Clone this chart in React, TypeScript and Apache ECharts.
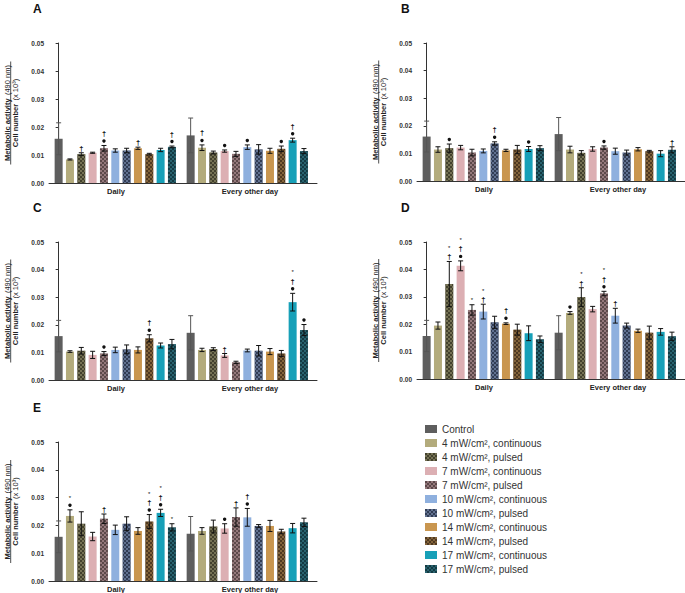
import React, { useEffect, useRef } from 'react';
import * as echarts from 'echarts';

const treatments = [
  'Control',
  '4 mW/cm², continuous',
  '4 mW/cm², pulsed',
  '7 mW/cm², continuous',
  '7 mW/cm², pulsed',
  '10 mW/cm², continuous',
  '10 mW/cm², pulsed',
  '14 mW/cm², continuous',
  '14 mW/cm², pulsed',
  '17 mW/cm², continuous',
  '17 mW/cm², pulsed',
];
const groups = ['Daily', 'Every other day'];
const panelNames = ['A', 'B', 'C', 'D', 'E'];
const yMin = 0;
const yMax = 0.05;
const yStep = 0.01;

// each array: 11 Daily values then 11 Every-other-day values
const meanA = [0.0158, 0.0084, 0.0103, 0.0108, 0.0124, 0.0116, 0.0116, 0.0124, 0.0103, 0.0118, 0.0129,
  0.0170, 0.0126, 0.0109, 0.0114, 0.0104, 0.0128, 0.0120, 0.0115, 0.0122, 0.0153, 0.0114];
const errA = [0.0057, 0.0002, 0.0005, 0.0002, 0.0010, 0.0006, 0.0008, 0.0004, 0.0003, 0.0006, 0.0003,
  0.0062, 0.0010, 0.0005, 0.0004, 0.0009, 0.0008, 0.0017, 0.0009, 0.0010, 0.0007, 0.0009];
const marksA = ['', '', '†', '', '†•', '', '', '†', '', '', '†•',
  '', '†•', '', '•', '', '•', '', '', '•', '†•', ''];

const meanB = [0.0161, 0.0114, 0.0119, 0.0121, 0.0103, 0.0109, 0.0136, 0.0111, 0.0114, 0.0116, 0.0119,
  0.0170, 0.0114, 0.0102, 0.0116, 0.0121, 0.0108, 0.0103, 0.0115, 0.0108, 0.0099, 0.0113];
const errB = [0.0056, 0.0010, 0.0015, 0.0008, 0.0012, 0.0007, 0.0006, 0.0004, 0.0015, 0.0009, 0.0009,
  0.0060, 0.0012, 0.0008, 0.0008, 0.0006, 0.0011, 0.0009, 0.0006, 0.0003, 0.0011, 0.0011];
const marksB = ['', '', '•', '', '', '', '†•', '', '', '•', '',
  '', '', '', '', '•', '', '', '', '', '', '†'];

const meanC = [0.0159, 0.0103, 0.0106, 0.0091, 0.0096, 0.0109, 0.0111, 0.0109, 0.0151, 0.0125, 0.0130,
  0.0171, 0.0109, 0.0112, 0.0089, 0.0064, 0.0107, 0.0106, 0.0103, 0.0096, 0.0282, 0.0181];
const errC = [0.0057, 0.0003, 0.0012, 0.0013, 0.0007, 0.0010, 0.0016, 0.0011, 0.0013, 0.0009, 0.0017,
  0.0062, 0.0006, 0.0005, 0.0007, 0.0004, 0.0005, 0.0019, 0.0011, 0.0011, 0.0032, 0.0020];
const marksC = ['', '', '', '', '•', '', '', '', '†•', '', '',
  '', '', '', '†', '', '', '', '', '', '*†•', '•'];

const meanD = [0.0157, 0.0195, 0.0347, 0.0413, 0.0252, 0.0246, 0.0207, 0.0202, 0.0180, 0.0167, 0.0145,
  0.0169, 0.0241, 0.0299, 0.0255, 0.0312, 0.0231, 0.0195, 0.0176, 0.0169, 0.0172, 0.0156];
const errD = [0.0057, 0.0013, 0.0082, 0.0018, 0.0019, 0.0027, 0.0022, 0.0003, 0.0020, 0.0027, 0.0012,
  0.0062, 0.0005, 0.0034, 0.0010, 0.0008, 0.0027, 0.0009, 0.0006, 0.0024, 0.0012, 0.0015];
const marksD = ['', '', '*†', '*†•', '*', '*†', '', '†•', '', '', '',
  '', '•', '*†', '', '*†•', '†', '', '', '', '', ''];

const meanE = [0.0159, 0.0234, 0.0206, 0.0160, 0.0224, 0.0184, 0.0206, 0.0180, 0.0214, 0.0245, 0.0193,
  0.0170, 0.0180, 0.0196, 0.0189, 0.0230, 0.0229, 0.0198, 0.0198, 0.0178, 0.0190, 0.0211];
const errE = [0.0057, 0.0022, 0.0043, 0.0015, 0.0017, 0.0017, 0.0025, 0.0012, 0.0025, 0.0013, 0.0013,
  0.0062, 0.0012, 0.0023, 0.0017, 0.0033, 0.0032, 0.0005, 0.0020, 0.0008, 0.0017, 0.0015];
const marksE = ['', '*•', '', '', '†', '', '', '', '*†•', '*†•', '*',
  '', '', '', '•', '†', '†•', '', '', '', '', ''];

const panelMeans = [meanA, meanB, meanC, meanD, meanE];
const panelErrs = [errA, errB, errC, errD, errE];
const panelMarks = [marksA, marksB, marksC, marksD, marksE];

const barColors = ['#5e5e5e', '#b3ab7c', '#43412d', '#dcafb3', '#5c494a', '#8fb0de', '#323d54', '#c9964f', '#4f3921', '#17a0b8', '#133a43'];
const decalColors = [null, null, '#9d9771', null, '#c09da0', null, '#879bc1', null, '#ab854f', null, '#388190'];

const FONT = 'Liberation Sans, Arial, sans-serif';

const gridBoxes = [
  { left: 49, top: 43, height: 140 },
  { left: 417, top: 43, height: 138 },
  { left: 49, top: 242, height: 138 },
  { left: 417, top: 242, height: 137 },
  { left: 49, top: 442, height: 139 },
];
const GRID_W = 268;
const GROUP_SHIFT = 11.65;

function pos(g: number, t: number) {
  return g * GROUP_SHIFT + t;
}

function buildOption() {
  const grid: any[] = [];
  const xAxis: any[] = [];
  const yAxis: any[] = [];
  const series: any[] = [];
  const graphic: any[] = [];

  gridBoxes.forEach((b, p) => {
    grid.push({ left: b.left, top: b.top, width: GRID_W, height: b.height, containLabel: false });
    xAxis.push({ type: 'value', gridIndex: p, min: -0.85, max: 22.8, show: false });
    xAxis.push({
      type: 'category', gridIndex: p, data: groups, position: 'bottom',
      axisLine: { show: true, lineStyle: { color: '#333', width: 1 } },
      axisTick: { show: false },
      axisLabel: { fontSize: 7.5, fontWeight: 'bold', color: '#222', margin: 4, fontFamily: FONT },
    });
    yAxis.push({
      type: 'value', gridIndex: p, min: yMin, max: yMax, interval: yStep,
      axisLine: { show: true, lineStyle: { color: '#333', width: 1 } },
      axisTick: { show: true, length: 3, lineStyle: { color: '#333' } },
      splitLine: { show: false },
      axisLabel: { fontSize: 6.5, fontWeight: 'bold', color: '#333', margin: 5, fontFamily: FONT, formatter: (v: number) => v.toFixed(2) },
    });

    const means = panelMeans[p];
    const errs = panelErrs[p];
    const marks = panelMarks[p];

    treatments.forEach((name, t) => {
      const itemStyle: any = { color: barColors[t] };
      if (decalColors[t]) {
        itemStyle.decal = {
          symbol: 'rect', symbolSize: 0.75, color: decalColors[t],
          dashArrayX: [[1.5, 1.5], [0, 1.5, 1.5, 0]], dashArrayY: [1.5, 0],
        };
      }
      series.push({
        type: 'bar', name, xAxisIndex: p * 2, yAxisIndex: p,
        barWidth: 8, barGap: '-100%',
        itemStyle,
        data: groups.map((_, g) => [pos(g, t), means[g * 11 + t]]),
      });
    });

    const errData: number[][] = [];
    groups.forEach((_, g) => {
      treatments.forEach((__, t) => {
        errData.push([pos(g, t), means[g * 11 + t], errs[g * 11 + t]]);
      });
    });

    series.push({
      type: 'custom', name: 'err' + p, xAxisIndex: p * 2, yAxisIndex: p, clip: false, z: 5,
      data: errData,
      renderItem: (params: any, api: any) => {
        const x = api.value(0);
        const m = api.value(1);
        const e = api.value(2);
        const top = api.coord([x, m + e]);
        const bot = api.coord([x, m - e]);
        const cx = top[0];
        const col = params.dataIndex % 11 === 0 ? '#555' : '#111';
        const children: any[] = [
          { type: 'line', shape: { x1: cx, y1: top[1], x2: cx, y2: bot[1] }, style: { stroke: col, lineWidth: 1 } },
          { type: 'line', shape: { x1: cx - 2.5, y1: top[1], x2: cx + 2.5, y2: top[1] }, style: { stroke: col, lineWidth: 1 } },
          { type: 'line', shape: { x1: cx - 2.5, y1: bot[1], x2: cx + 2.5, y2: bot[1] }, style: { stroke: col, lineWidth: 1 } },
        ];
        let y = top[1] - 4.5;
        let prev = '';
        const chars = Array.from(marks[params.dataIndex] || '').reverse();
        for (const ch of chars) {
          if (ch === '•') {
            children.push({ type: 'circle', shape: { cx, cy: y, r: 1.7 }, style: { fill: '#111' } });
            y -= 7.5;
          } else if (ch === '†') {
            children.push({ type: 'text', x: cx, y, style: { text: '†', fontSize: 7.5, fontWeight: 'bold', fontFamily: FONT, fill: '#111', align: 'center', verticalAlign: 'middle' } });
            y -= 7.5;
          } else if (ch === '*') {
            if (prev === '†') y -= 1.5;
            children.push({ type: 'text', x: cx, y, style: { text: '*', fontSize: 6, fontFamily: FONT, fill: '#111', align: 'center', verticalAlign: 'middle' } });
            y -= 7;
          }
          prev = ch;
        }
        return { type: 'group', children };
      },
    });

    // panel letter
    graphic.push({
      type: 'text', x: b.left - 16, y: b.top - 40,
      style: { text: panelNames[p], font: `bold 12px ${FONT}`, fill: '#111', textAlign: 'left', textVerticalAlign: 'top', align: 'left', verticalAlign: 'top' },
    });
    // y axis label
    const cy = b.top + b.height / 2;
    graphic.push({
      type: 'text', x: b.left - 42, y: cy, rotation: Math.PI / 2,
      style: {
        text: '{b|Metabolic activity} {n|(490 nm)}',
        textAlign: 'center', textVerticalAlign: 'middle', align: 'center', verticalAlign: 'middle',
        rich: {
          b: { fontSize: 7.5, fontWeight: 'bold', fontFamily: FONT, fill: '#222', color: '#222' },
          n: { fontSize: 7.5, fontFamily: FONT, fill: '#222', color: '#222' },
        },
      },
    });
    graphic.push({
      type: 'line', shape: { x1: b.left - 38.3, y1: cy - 51.5, x2: b.left - 38.3, y2: cy + 51.5 },
      style: { stroke: '#222', lineWidth: 0.8 },
    });
    graphic.push({
      type: 'text', x: b.left - 34, y: cy, rotation: Math.PI / 2,
      style: {
        text: '{b|Cell number} {n|(x 10³)}',
        textAlign: 'center', textVerticalAlign: 'middle', align: 'center', verticalAlign: 'middle',
        rich: {
          b: { fontSize: 7.5, fontWeight: 'bold', fontFamily: FONT, fill: '#222', color: '#222' },
          n: { fontSize: 7.5, fontFamily: FONT, fill: '#222', color: '#222' },
        },
      },
    });
  });

  return {
    animation: false,
    backgroundColor: '#ffffff',
    textStyle: { fontFamily: FONT },
    grid, xAxis, yAxis, series, graphic,
    legend: {
      data: treatments,
      orient: 'vertical', left: 420, top: 419,
      itemWidth: 12, itemHeight: 8, itemGap: 4,
      icon: 'rect',
      textStyle: { fontSize: 10, color: '#333', fontFamily: FONT },
      selectedMode: false,
    },
  };
}

export default function App() {
  const ref = useRef<HTMLDivElement>(null);
  useEffect(() => {
    if (!ref.current) return;
    const chart = echarts.init(ref.current, null, { renderer: 'svg' });
    chart.setOption(buildOption() as any);
    return () => chart.dispose();
  }, []);
  return (
    <div
      ref={ref}
      style={{ position: 'fixed', left: 0, top: 0, width: 685, height: 593, background: '#fff' }}
    />
  );
}
